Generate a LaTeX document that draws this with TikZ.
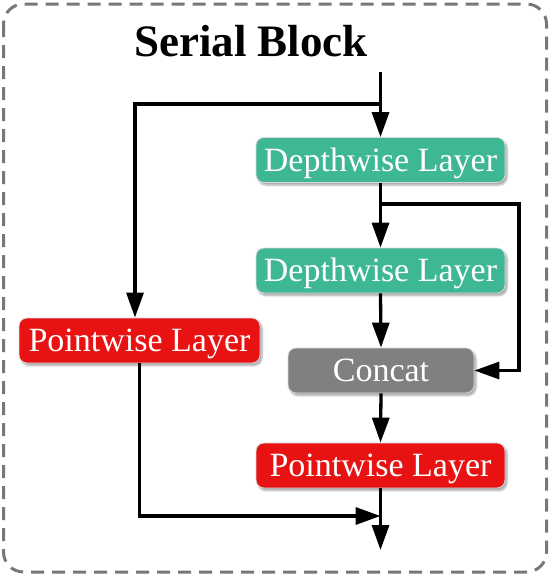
\documentclass[tikz,border=0pt]{standalone}
\usepackage{fontspec}
\setmainfont{Liberation Serif}
\usetikzlibrary{arrows.meta,shadows.blur}
\definecolor{dwgreen}{RGB}{62,184,148}
\definecolor{pwred}{RGB}{232,18,18}
\definecolor{ccgray}{RGB}{128,128,128}
\definecolor{bordergray}{RGB}{120,120,120}
\tikzset{
  layerbox/.style={rounded corners=8pt, minimum height=45pt, inner sep=0pt,
    text=white, font=\fontsize{34}{40}\selectfont, text height=22.5pt, text depth=0pt,
    draw=white!85!black, line width=0.8pt,
    blur shadow={shadow blur steps=6, shadow xshift=2pt, shadow yshift=-2.5pt, shadow opacity=35}},
  dwbox/.style={layerbox, fill=dwgreen, minimum width=249pt},
  pwbox/.style={layerbox, fill=pwred, minimum width=241pt},
  ccbox/.style={layerbox, fill=ccgray, minimum width=186pt},
  arr/.style={line width=3.3pt, -{Triangle[length=25pt,width=17pt]}},
  plain/.style={line width=3.3pt},
}
\begin{document}
\begin{tikzpicture}[x=1pt,y=-1pt]
\useasboundingbox (0,0) rectangle (550,576);
\draw[bordergray, line width=3pt, dash pattern=on 13pt off 8pt, rounded corners=20pt]
  (3.5,4) rectangle (546.5,572);
\node[anchor=base, font=\fontsize{45}{54}\selectfont\bfseries] (title) at (251,56) {Serial Block};
\node[dwbox] (dw1) at (380.5,160) {Depthwise Layer};
\node[dwbox] (dw2) at (380.5,270.5) {Depthwise Layer};
\node[pwbox] (pwl) at (139.5,340.5) {Pointwise Layer};
\node[ccbox] (cc) at (381,370.5) {Concat};
\node[pwbox, minimum width=249pt] (pwr) at (380.5,465.5) {Pointwise Layer};
\coordinate (in) at (380.5,72);
\coordinate (s1) at (380.5,104);
\coordinate (lb) at (135,104);
\coordinate (s2) at (380.5,204);
\coordinate (rb) at (519,204);
\coordinate (merge) at (380.5,516);
\coordinate (out) at (380.5,550);
\draw[arr] (in) -- (dw1.north);
\draw[arr] (s1) -- (lb) -- (lb |- pwl.north);
\draw[arr] (dw1.south) -- (dw2.north);
\draw[arr] (s2) -- (rb) |- (cc.east);
\draw[arr] (dw2.south) -- (cc.north);
\draw[arr] (cc.south) -- (pwr.north);
\draw[arr] (pwl.south) |- (merge);
\draw[arr] (pwr.south) -- (out);
\end{tikzpicture}
\end{document}
